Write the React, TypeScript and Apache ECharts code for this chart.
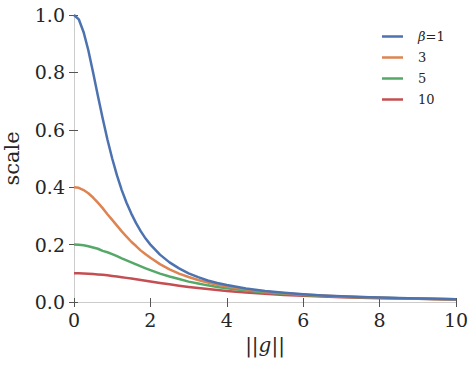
import React, { useEffect, useRef } from "react";
import * as echarts from "echarts";

const gValues = [0, 0.125, 0.25, 0.375, 0.5, 0.625, 0.75, 0.875, 1, 1.125, 1.25, 1.375, 1.5, 1.625, 1.75, 1.875, 2, 2.25, 2.5, 2.75, 3, 3.25, 3.5, 3.75, 4, 4.5, 5, 5.5, 6, 6.5, 7, 7.5, 8, 8.5, 9, 9.5, 10];

const beta1 = [1.0, 0.985, 0.941, 0.877, 0.8, 0.719, 0.64, 0.566, 0.5, 0.441, 0.39, 0.346, 0.308, 0.275, 0.246, 0.221, 0.2, 0.165, 0.138, 0.117, 0.1, 0.0865, 0.075, 0.0664, 0.059, 0.047, 0.038, 0.032, 0.027, 0.023, 0.02, 0.0175, 0.0154, 0.0137, 0.0122, 0.011, 0.0099];
const beta3 = [0.4, 0.398, 0.39, 0.379, 0.364, 0.346, 0.327, 0.306, 0.286, 0.266, 0.246, 0.228, 0.21, 0.195, 0.179, 0.166, 0.154, 0.132, 0.114, 0.099, 0.087, 0.0766, 0.068, 0.0604, 0.054, 0.044, 0.0364, 0.0305, 0.026, 0.0223, 0.0194, 0.017, 0.015, 0.0134, 0.012, 0.0108, 0.0098];
const beta5 = [0.2, 0.1994, 0.198, 0.1945, 0.19, 0.1855, 0.178, 0.1734, 0.167, 0.1596, 0.152, 0.1451, 0.138, 0.1309, 0.124, 0.1174, 0.111, 0.099, 0.089, 0.08, 0.071, 0.0643, 0.058, 0.0525, 0.048, 0.04, 0.033, 0.0284, 0.0244, 0.0212, 0.0185, 0.0163, 0.0145, 0.013, 0.0116, 0.0105, 0.0095];
const beta10 = [0.1, 0.0998, 0.0994, 0.0986, 0.0976, 0.0962, 0.0947, 0.0929, 0.0909, 0.0888, 0.0865, 0.0841, 0.0816, 0.0791, 0.0766, 0.074, 0.0714, 0.0664, 0.0615, 0.0569, 0.0526, 0.0486, 0.0449, 0.0416, 0.0385, 0.0331, 0.0286, 0.0248, 0.0217, 0.0191, 0.0169, 0.0151, 0.0135, 0.0122, 0.011, 0.01, 0.0091];

const seriesNames = ["β=1", "3", "5", "10"];
const seriesData = [beta1, beta3, beta5, beta10];
const colors = ["#4c72b0", "#dd8452", "#55a868", "#c44e52"];

const FONT = "'DejaVu Serif', 'Liberation Serif', serif";

export default function App() {
  const ref = useRef<HTMLDivElement>(null);
  useEffect(() => {
    document.body.style.margin = "0";
    if (!ref.current) return;
    const chart = echarts.init(ref.current, undefined, { renderer: "svg" });
    const axisLineStyle = { color: "#cccccc", width: 1 };
    const tickStyle = { color: "#555555", width: 1 };
    chart.setOption({
      animation: false,
      backgroundColor: "#ffffff",
      grid: { left: 74, right: 18, top: 15, bottom: 64, containLabel: false, outerBoundsMode: "none" },
      legend: {
        left: 377,
        top: 25,
        orient: "vertical",
        itemWidth: 21,
        itemHeight: 14,
        itemGap: 8,
        icon: "path://M0,6 L21,6 L21,8.5 L0,8.5 Z",
        data: seriesNames,
        formatter: (name: string) => (name === "β=1" ? "{i|β}=1" : name),
        textStyle: {
          fontFamily: FONT,
          fontSize: 13,
          color: "#262626",
          padding: [0, 0, 0, 10],
          rich: { i: { fontFamily: FONT, fontStyle: "italic", fontSize: 13, color: "#262626" } },
        },
      },
      xAxis: [
        {
          type: "value",
          min: 0,
          max: 10,
          interval: 2,
          name: "{n|||}{i|g}{n|||}",
          nameLocation: "middle",
          nameGap: 33,
          nameTextStyle: {
            rich: {
              n: { fontFamily: FONT, fontSize: 20, color: "#262626" },
              i: { fontFamily: FONT, fontSize: 20, fontStyle: "italic", color: "#262626" },
            },
          },
          axisLine: { show: true, lineStyle: axisLineStyle },
          axisTick: { show: true, inside: false, length: 5, lineStyle: tickStyle },
          axisLabel: { fontFamily: FONT, fontSize: 19, color: "#262626", margin: 8 },
          splitLine: { show: false },
        },
        {
          type: "value",
          position: "top",
          min: 0,
          max: 10,
          interval: 2,
          axisLine: { show: true, lineStyle: axisLineStyle },
          axisTick: { show: true, inside: false, length: 4, lineStyle: tickStyle },
          axisLabel: { show: false },
          splitLine: { show: false },
        },
      ],
      yAxis: [
        {
          type: "value",
          min: 0,
          max: 1,
          interval: 0.2,
          name: "scale",
          nameLocation: "middle",
          nameGap: 52,
          nameTextStyle: { fontFamily: FONT, fontSize: 21, color: "#262626" },
          axisLine: { show: true, lineStyle: axisLineStyle },
          axisTick: { show: true, inside: false, length: 5, lineStyle: tickStyle },
          axisLabel: {
            fontFamily: FONT,
            fontSize: 19,
            color: "#262626",
            margin: 9,
            formatter: (v: number) => v.toFixed(1),
          },
          splitLine: { show: false },
        },
        {
          type: "value",
          position: "right",
          min: 0,
          max: 1,
          interval: 0.2,
          axisLine: { show: true, lineStyle: axisLineStyle },
          axisTick: { show: true, inside: false, length: 4, lineStyle: tickStyle },
          axisLabel: { show: false },
          splitLine: { show: false },
        },
      ],
      series: seriesNames.map((name, k) => ({
        name,
        type: "line",
        xAxisIndex: 0,
        yAxisIndex: 0,
        symbol: "none",
        smooth: false,
        data: gValues.map((g, i) => [g, seriesData[k][i]]),
        lineStyle: { color: colors[k], width: 2.5, join: "round" },
        itemStyle: { color: colors[k] },
        z: 10 - k,
      })),
    });
    return () => chart.dispose();
  }, []);
  return <div ref={ref} style={{ width: 474, height: 366 }} />;
}
